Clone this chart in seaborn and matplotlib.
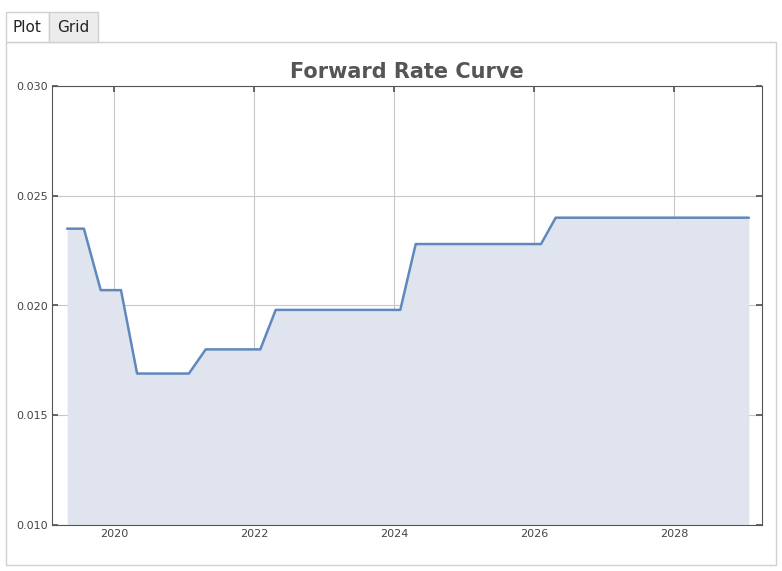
import matplotlib
matplotlib.use("Agg")
import matplotlib.pyplot as plt
import seaborn as sns
import pandas as pd
from matplotlib.patches import Rectangle

years = [2019.33, 2019.57, 2019.81, 2020.10, 2020.33, 2021.07, 2021.31, 2022.09,
         2022.31, 2024.09, 2024.31, 2026.10, 2026.31, 2029.07]
rates = [0.0235, 0.0235, 0.0207, 0.0207, 0.0169, 0.0169, 0.0180, 0.0180,
         0.0198, 0.0198, 0.0228, 0.0228, 0.0240, 0.0240]
xticks = [2020, 2022, 2024, 2026, 2028]
yticks = [0.010, 0.015, 0.020, 0.025, 0.030]

df = pd.DataFrame({"year": years, "rate": rates})
sns.set_theme(style="white")
plt.rcParams['font.family'] = ['DejaVu Sans']

fig = plt.figure(figsize=(7.82, 5.71), dpi=100)
# panel border and tabs
fig.patches.append(Rectangle((6/782, 1-565/571), 770/782, (565-42)/571, transform=fig.transFigure,
                             fill=False, edgecolor="#d0d0d0", lw=1))
fig.patches.append(Rectangle((6/782, 1-42/571), 43/782, 30/571, transform=fig.transFigure,
                             facecolor="white", edgecolor="#d0d0d0", lw=1))
fig.patches.append(Rectangle((49/782, 1-42/571), 49/782, 30/571, transform=fig.transFigure,
                             facecolor="#ececec", edgecolor="#d0d0d0", lw=1))
fig.text(27/782, 1-28/571, "Plot", ha="center", va="center", fontsize=11, color="#222222")
fig.text(73/782, 1-28/571, "Grid", ha="center", va="center", fontsize=11, color="#222222")

ax = fig.add_axes([52/782, 1-525/571, 710/782, 439/571])
ax.fill_between(df["year"], 0.010, df["rate"], color="#dfe4ef", lw=0)
sns.lineplot(data=df, x="year", y="rate", ax=ax, color="#5f88bd", lw=1.8)
ax.set_xlim(2018.54, 2028.68 + 0.466 + 0.0)
ax.set_xlim(2018.54, 2028.68)
ax.set_xlim((52-114)/70+2020, (762-114)/70+2020)
ax.set_ylim(0.010, 0.030)
ax.set_xticks(xticks)
ax.set_xticklabels([str(t) for t in xticks], fontsize=8, color="#444444")
ax.set_yticks(yticks)
ax.set_yticklabels([f"{t:.3f}" for t in yticks], fontsize=8, color="#444444")
ax.grid(True, color="#c8c8c8", lw=0.8)
ax.set_axisbelow(True)
ax.set_xlabel(""); ax.set_ylabel("")
for s in ax.spines.values():
    s.set_color("#555555"); s.set_linewidth(0.8)
ax.tick_params(axis="both", direction="in", length=4, color="#555555", pad=3, bottom=True, left=True, top=True, right=True)
ax.set_title("Forward Rate Curve", fontsize=15, fontweight="bold", color="#555555", pad=6)
fig.savefig("out.png", dpi=100)
